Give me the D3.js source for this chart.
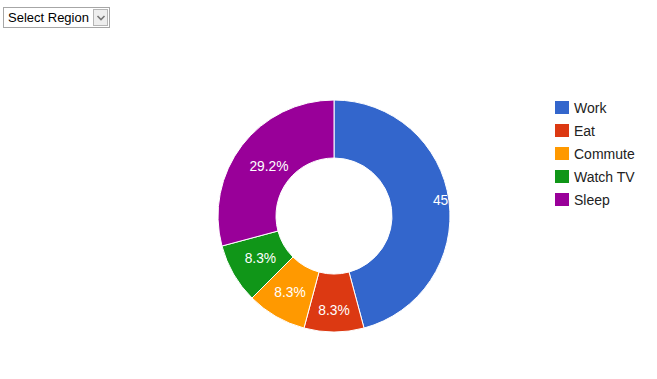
<!DOCTYPE html>
<html>
<head>
<meta charset="utf-8">
<script src="https://cdn.jsdelivr.net/npm/d3@7"></script>
<style>
  html, body { margin: 0; padding: 0; background: #fff; }
  body { width: 657px; height: 379px; position: relative; overflow: hidden; font-family: Arial, "Liberation Sans", sans-serif; }
  #sel {
    position: absolute; left: 3px; top: 7px; width: 107px; height: 21px;
    box-sizing: border-box; border: 1px solid #a6a6a6; background: #fff;
    font: 13px Arial, "Liberation Sans", sans-serif; color: #000;
    -webkit-appearance: none; appearance: none; padding: 0 0 0 4px; margin: 0; border-radius: 0;
  }
  #arrow {
    position: absolute; left: 93px; top: 9px; width: 15px; height: 17px;
    box-sizing: border-box; border: 1px solid #b5b5b5; background: #eeeeee; pointer-events: none;
  }
  svg { position: absolute; left: 0; top: 0; }
</style>
</head>
<body>
<select id="sel"><option>Select Region</option></select>
<svg id="arrow" width="15" height="17"><path d="M3.5,6 L7,9.5 L10.5,6" fill="none" stroke="#777" stroke-width="1.6"/></svg>
<svg id="chart" width="657" height="379"></svg>
<script>
const categories = ["Work", "Eat", "Commute", "Watch TV", "Sleep"];
const hours = [11, 2, 2, 2, 7];
const colors = ["#3366cc", "#dc3912", "#ff9900", "#109618", "#990099"];

const W = 657, H = 379;
const cx = 334, cy = 216, R = 116, r0 = 58;

const svg = d3.select("#chart");
const data = categories.map((c, i) => ({ name: c, value: hours[i], color: colors[i] }));
const total = d3.sum(hours);

const pie = d3.pie().sort(null).value(d => d.value);
const arcs = pie(data);
const arc = d3.arc().innerRadius(r0).outerRadius(R);

const g = svg.append("g").attr("transform", `translate(${cx},${cy})`);

svg.append("defs").append("clipPath").attr("id", "pieClip")
  .append("circle").attr("r", R - 1);

g.selectAll("path.slice").data(arcs).enter().append("path")
  .attr("class", "slice")
  .attr("d", arc)
  .attr("fill", d => d.data.color)
  .attr("stroke", "#fff")
  .attr("stroke-width", 1);

const fmt = d => (d.value / total * 100).toFixed(1) + "%";
const maxVal = d3.max(hours);

const lg = g.append("g").attr("clip-path", "url(#pieClip)");
arcs.forEach(d => {
  const t = lg.append("text")
    .attr("fill", "#fff")
    .attr("font-size", 13.8)
    .attr("font-family", "Arial, 'Liberation Sans', sans-serif")
    .attr("text-anchor", "middle")
    .attr("dy", "0.35em")
    .text(fmt(d));
  const w = t.node().getComputedTextLength();
  const h = 13;
  const a = (d.startAngle + d.endAngle) / 2;
  const sx = Math.sin(a), sy = -Math.cos(a);
  let rad;
  if (d.data.value === maxVal) {
    rad = R + 3.5;
  } else {
    // push outward until the farthest box corner reaches ~0.88R
    const lim = R * 0.88;
    rad = r0;
    for (let k = r0; k < R; k += 0.5) {
      const x = sx * k, y = sy * k;
      const fx = Math.abs(x) + w / 2, fy = Math.abs(y) + h / 2;
      if (Math.hypot(fx, fy) > lim) break;
      rad = k;
    }
  }
  t.attr("x", sx * rad).attr("y", sy * rad);
});

// legend
const leg = svg.append("g").attr("transform", "translate(555,101)");
const rows = leg.selectAll("g").data(data).enter().append("g")
  .attr("transform", (d, i) => `translate(0,${i * 23})`);
rows.append("rect").attr("width", 14).attr("height", 13).attr("fill", d => d.color);
rows.append("text").attr("x", 19).attr("y", 7).attr("dy", "0.35em")
  .attr("font-size", 14).attr("fill", "#222")
  .attr("font-family", "Arial, 'Liberation Sans', sans-serif")
  .text(d => d.name);
</script>
</body>
</html>
